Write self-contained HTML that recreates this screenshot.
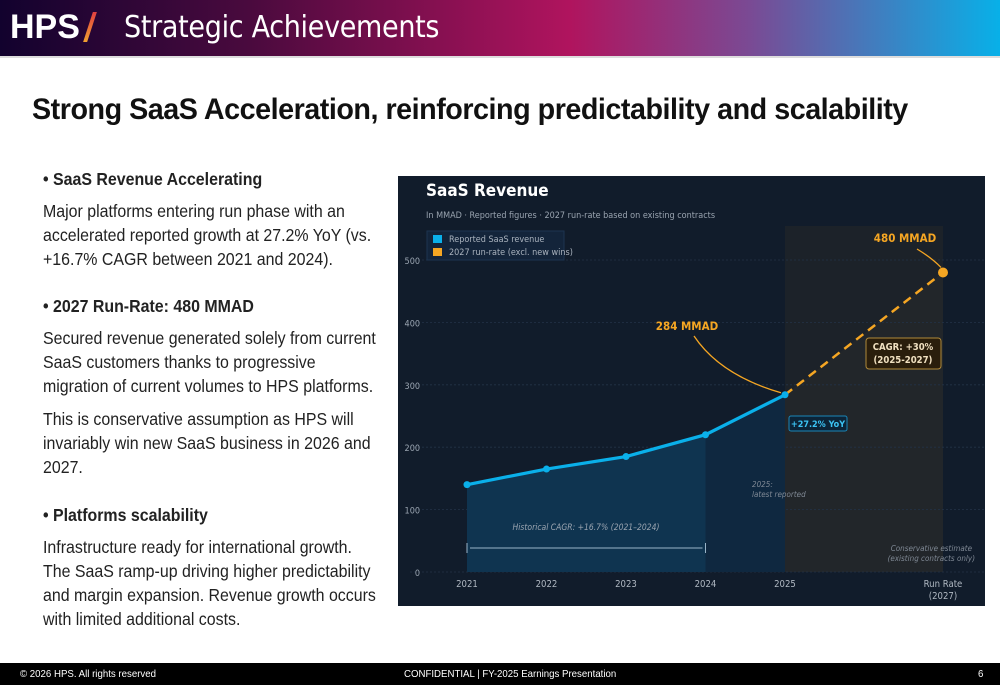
<!DOCTYPE html>
<html><head><meta charset="utf-8"><style>
*{margin:0;padding:0;box-sizing:border-box}
body{width:1000px;height:685px;overflow:hidden;background:#fff;font-family:"Liberation Sans",sans-serif;position:relative}
#hdr{position:absolute;left:0;top:0;width:1000px;height:56px;background:linear-gradient(90deg,#12022e 0%,#4a0a3e 25%,#b0145e 57%,#7a4a94 75%,#3f7fc0 88%,#08b0e8 100%)}
#hdr .logo{position:absolute;left:10px;top:8px;color:#fff;font-weight:bold;font-size:34px;letter-spacing:0px}
#hdr .slash{position:absolute;left:88px;top:12px;width:4px;height:30px;background:linear-gradient(#e04040,#f0a030);transform:skewX(-18deg)}
#hdr .t{position:absolute;left:124px;top:10px;color:#fff;font-size:30px;font-family:"DejaVu Sans Condensed","Liberation Sans",sans-serif;font-weight:normal;letter-spacing:-0.3px}
#hdr:after{content:"";position:absolute;left:0;top:56px;width:1000px;height:2px;background:#ddd}
h1{position:absolute;left:32px;top:93px;font-size:30px;font-weight:bold;color:#111;letter-spacing:-0.5px;transform:scaleX(0.957);transform-origin:0 0;white-space:nowrap}
.ln{position:absolute;left:43px;color:#222;font-size:17.5px;white-space:nowrap;transform:scaleX(0.91);transform-origin:0 0;line-height:20px}
.ln.b{font-weight:bold;left:43px}
#foot{position:absolute;left:0;top:663px;width:1000px;height:22px;background:#000;color:#fff;font-size:10.5px}
#foot span{position:absolute;top:5px;transform:scaleX(0.92);transform-origin:0 0}
</style></head><body>
<div id="hdr">
<div class="logo">HPS</div><div class="slash"></div>
<div class="t">Strategic Achievements</div></div>
<h1>Strong SaaS Acceleration, reinforcing predictability and scalability</h1>
<div>
<div class="ln b" style="top:169px">• SaaS Revenue Accelerating</div>
<div class="ln" style="top:201px">Major platforms entering run phase with an</div>
<div class="ln" style="top:225px">accelerated reported growth at 27.2% YoY (vs.</div>
<div class="ln" style="top:249px">+16.7% CAGR between 2021 and 2024).</div>
<div class="ln b" style="top:296px">• 2027 Run-Rate: 480 MMAD</div>
<div class="ln" style="top:328px">Secured revenue generated solely from current</div>
<div class="ln" style="top:352px">SaaS customers thanks to progressive</div>
<div class="ln" style="top:376px">migration of current volumes to HPS platforms.</div>
<div class="ln" style="top:409px">This is conservative assumption as HPS will</div>
<div class="ln" style="top:433px">invariably win new SaaS business in 2026 and</div>
<div class="ln" style="top:457px">2027.</div>
<div class="ln b" style="top:505px">• Platforms scalability</div>
<div class="ln" style="top:537px">Infrastructure ready for international growth.</div>
<div class="ln" style="top:561px">The SaaS ramp-up driving higher predictability</div>
<div class="ln" style="top:585px">and margin expansion. Revenue growth occurs</div>
<div class="ln" style="top:609px">with limited additional costs.</div>
</div>
<svg id="chart" style="position:absolute;left:0;top:0" width="1000" height="685" font-family="DejaVu Sans Condensed, DejaVu Sans, sans-serif"></svg>
<div id="foot"><span style="left:20px">© 2026 HPS. All rights reserved</span><span style="left:404px">CONFIDENTIAL | FY-2025 Earnings Presentation</span><span style="left:978px">6</span></div>
<script>
const categories=["2021","2022","2023","2024","2025","Run Rate"];
const reported=[140,165,185,220,284];
const runRate=480;
const yTicks=[0,100,200,300,400,500];
const NS="http://www.w3.org/2000/svg";
const svg=document.getElementById('chart');
function x(i){return 467+(i<5?i*79.5:476);}
function y(v){return 572-v*0.624;}
function mk(t,a,txt){const e=document.createElementNS(NS,t);for(const k in a)e.setAttribute(k,a[k]);if(txt!=null)e.textContent=txt;svg.appendChild(e);return e;}
let e;
e=mk('rect',{x:398,y:176,width:587,height:430,fill:'#111c2b'});

e=mk('text',{x:426,y:196,fill:'#fff','font-size':17,'font-weight':'bold'},'SaaS Revenue');

e=mk('text',{x:426,y:218,fill:'#9aa4b0','font-size':9},'In MMAD  ·  Reported figures  ·  2027 run-rate based on existing contracts');

e=mk('rect',{x:x(4),y:226,width:x(5)-x(4),height:572-226,fill:'#1c2229'});

e=mk('polygon',{points:`${x(4)},${y(reported[4])} ${x(5)},${y(runRate)} ${x(5)},572 ${x(4)},572`,fill:'#22262a'});

yTicks.forEach(v=>{e=mk('line',{x1:410,x2:985,y1:y(v),y2:y(v),stroke:'#233247','stroke-dasharray':'2,2','stroke-width':0.8});

e=mk('text',{x:420,y:y(v)+4,fill:'#9aa4b0','font-size':9,'text-anchor':'end'},v);
});
let pts=reported.slice(0,4).map((v,i)=>`${x(i)},${y(v)}`).join(' ');
e=mk('polygon',{points:`${pts} ${x(3)},572 ${x(0)},572`,fill:'#0f3450'});

e=mk('polygon',{points:`${x(3)},${y(reported[3])} ${x(4)},${y(reported[4])} ${x(4)},572 ${x(3)},572`,fill:'#0f2840'});

e=mk('line',{x1:x(4),y1:y(reported[4]),x2:x(5),y2:y(runRate),stroke:'#f5a623','stroke-width':2.5,'stroke-dasharray':'9,6'});

e=mk('polyline',{points:reported.map((v,i)=>`${x(i)},${y(v)}`).join(' '),fill:'none',stroke:'#0ab0ea','stroke-width':3.2});

reported.forEach((v,i)=>{e=mk('circle',{cx:x(i),cy:y(v),r:3.5,fill:'#0ab0ea'});
});
e=mk('circle',{cx:x(5),cy:y(runRate),r:5,fill:'#f5a623'});

categories.forEach((c,i)=>{e=mk('text',{x:x(i),y:587,fill:'#b0b8c2','font-size':9.5,'text-anchor':'middle'},c);
});
e=mk('text',{x:x(5),y:599,fill:'#b0b8c2','font-size':9.5,'text-anchor':'middle'},'(2027)');

e=mk('rect',{x:427,y:231,width:137,height:29,fill:'#13243a',stroke:'#1d3450'});

e=mk('rect',{x:433,y:235,width:9,height:8,fill:'#0ab0ea'});
e=mk('text',{x:449,y:242,fill:'#aab3be','font-size':9},'Reported SaaS revenue');
e=mk('rect',{x:433,y:248,width:9,height:8,fill:'#f5a623'});
e=mk('text',{x:449,y:255,fill:'#aab3be','font-size':9},'2027 run-rate (excl. new wins)');
e=mk('text',{x:687,y:330,fill:'#f5a623','font-size':11.5,'font-weight':'bold','text-anchor':'middle'},reported[4]+' MMAD');

e=mk('path',{d:`M694,336 Q720,375 ${x(4)-4},${y(reported[4])-2}`,fill:'none',stroke:'#f5a623','stroke-width':1.3});

e=mk('text',{x:905,y:242,fill:'#f5a623','font-size':11.5,'font-weight':'bold','text-anchor':'middle'},runRate+' MMAD');

e=mk('path',{d:`M917,249 Q932,258 ${x(5)-2},${y(runRate)-5}`,fill:'none',stroke:'#f5a623','stroke-width':1.3});

e=mk('rect',{x:866,y:338,width:75,height:31,rx:3,fill:'#2a1e0c',stroke:'#b08a3a'});

e=mk('text',{x:903,y:350,fill:'#f0e0c0','font-size':9.5,'font-weight':'bold','text-anchor':'middle'},'CAGR: +30%');
e=mk('text',{x:903,y:363,fill:'#f0e0c0','font-size':9.5,'font-weight':'bold','text-anchor':'middle'},'(2025-2027)');
e=mk('rect',{x:789,y:416,width:58,height:15,rx:2,fill:'#0c2438',stroke:'#1a86b8'});

e=mk('text',{x:818,y:427,fill:'#3cc4f5','font-size':9,'font-weight':'bold','text-anchor':'middle'},'+27.2% YoY');
e=mk('text',{x:752,y:487,fill:'#7f8894','font-size':8,'font-style':'italic'},'2025:');
e=mk('text',{x:752,y:497,fill:'#7f8894','font-size':8,'font-style':'italic'},'latest reported');
e=mk('text',{x:586,y:530,fill:'#9aa4b0','font-size':8.5,'font-style':'italic','text-anchor':'middle'},'Historical CAGR: +16.7%  (2021–2024)');
e=mk('line',{x1:x(0)+3,x2:x(3)-3,y1:548,y2:548,stroke:'#9ab4c8','stroke-width':1});
[x(0),x(3)].forEach(xx=>{e=mk('line',{x1:xx,x2:xx,y1:543,y2:553,stroke:'#9ab4c8'});});
e=mk('text',{x:972,y:551,fill:'#7f8894','font-size':8,'font-style':'italic','text-anchor':'end'},'Conservative estimate');
e=mk('text',{x:975,y:561,fill:'#7f8894','font-size':8,'font-style':'italic','text-anchor':'end'},'(existing contracts only)');
</script>
</body></html>
